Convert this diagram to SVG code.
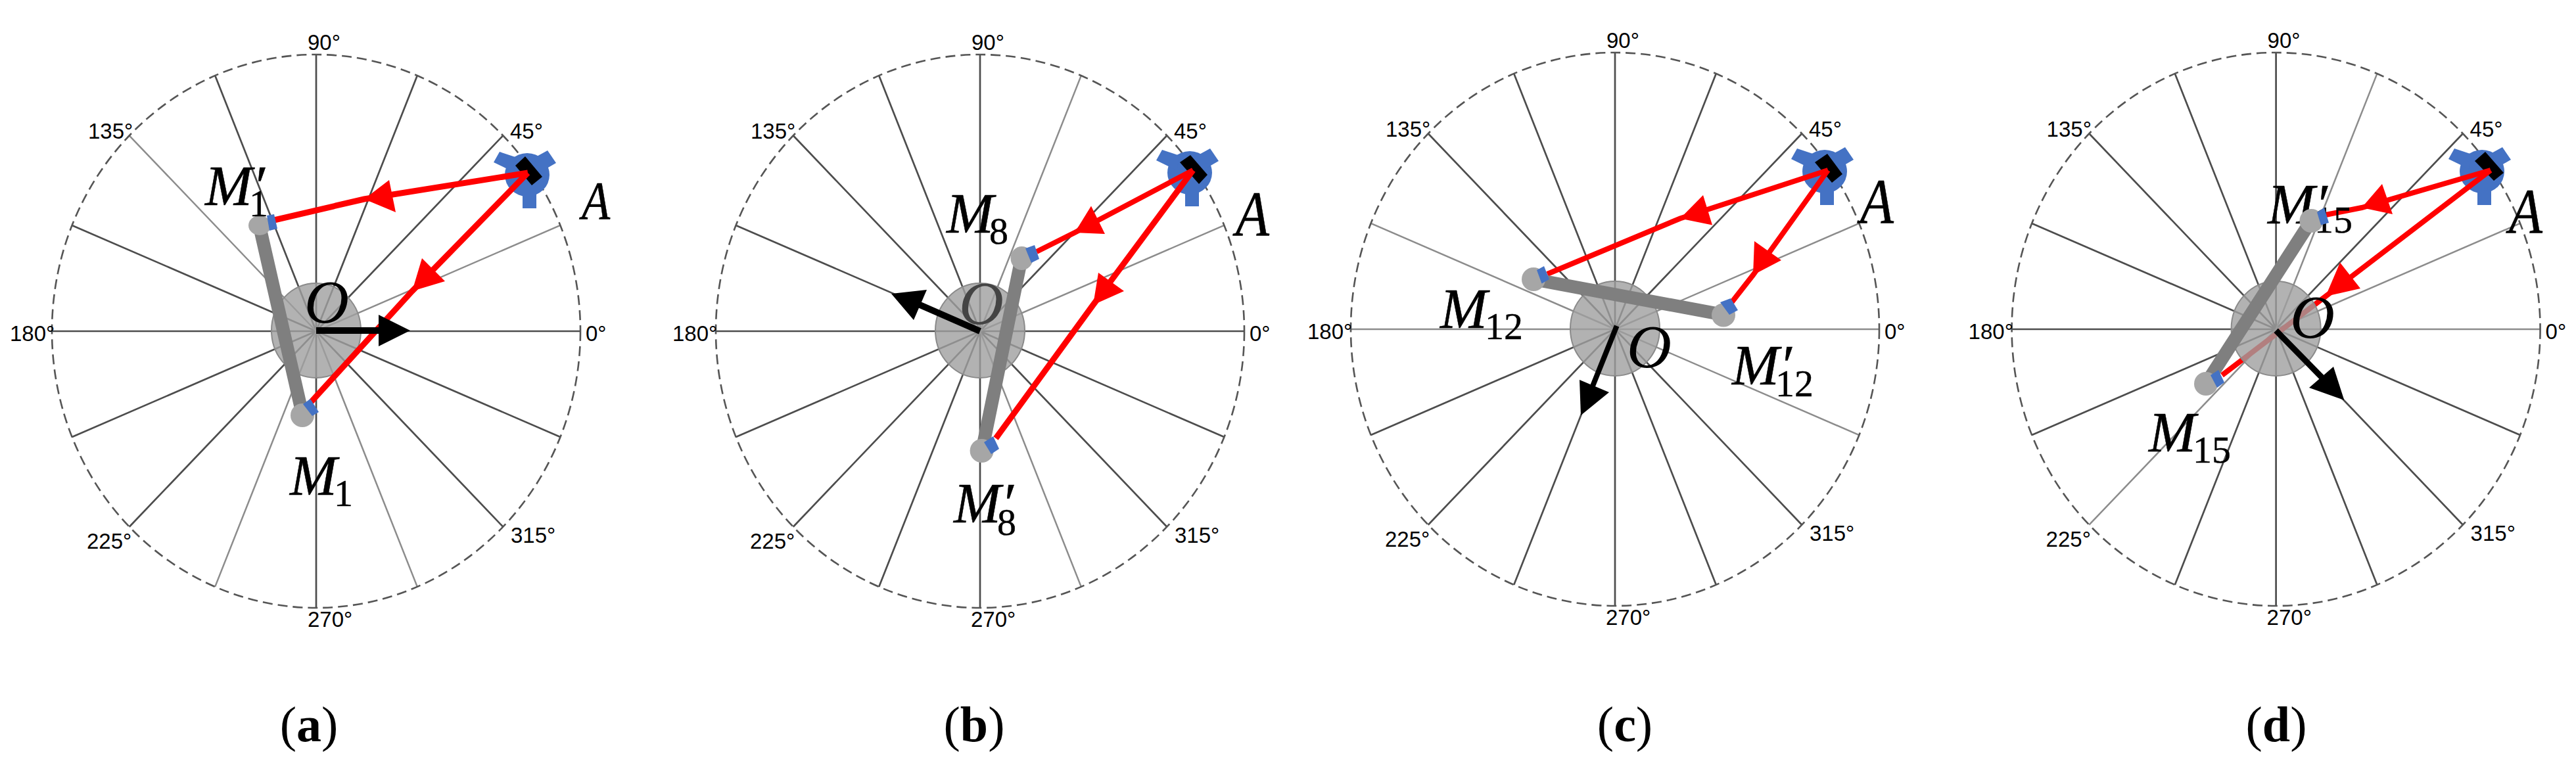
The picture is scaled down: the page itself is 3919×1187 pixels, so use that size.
<svg xmlns="http://www.w3.org/2000/svg" width="3919" height="1187" viewBox="0 0 3919 1187">
<style>
.dk{fill:none;stroke:#4d4d4d;stroke-width:2.7}
.lt{fill:none;stroke:#8c8c8c;stroke-width:2.5}
.rim{fill:none;stroke:#555;stroke-width:2.6;stroke-dasharray:15 8}
.core{fill:#9f9f9f;fill-opacity:.8;stroke:#8a8a8a;stroke-width:2}
.deg{font:33px "Liberation Sans",Arial,sans-serif;fill:#000}
.v{font:italic 86px "Liberation Serif",serif;fill:#000;stroke:#000;stroke-width:.6}
.s{font:normal 58px "Liberation Serif",serif;stroke-width:.4}
.cap{font:76px "Liberation Serif",serif;fill:#000;text-anchor:middle}
.b{font-weight:bold}
.rod{stroke:#7f7f7f;stroke-width:20;fill:none}
.knob{fill:#a6a6a6}
.tab{fill:#4472c4}
.ray{stroke:#f00;stroke-width:9;fill:none}
.rh{fill:#f00}
.ax{stroke:#000;stroke-width:10;fill:none}
.hub{fill:#4472c4}
</style>
<defs>
<g id="hub">
<ellipse cx="1" cy="1" rx="34" ry="33"/>
<polygon points="-41,-34 -50,-18 -19,-3 -14,-25"/>
<polygon points="32,-36 45,-17 19,-2 12,-25"/>
<polygon points="-6,28 -6,52 15,52 15,28"/>
</g>
</defs>
<rect width="3919" height="1187" fill="#fff"/>

<g id="panel-a">
<g id="grid-a" transform="translate(481 504)">
<path class="dk" d="M0 0L402 0M0 0L284.3 -297.7M0 0L153.8 -388.9M0 0L0 -421M0 0L-153.8 -388.9M0 0L-371.4 -161.1M0 0L-402 0M0 0L-371.4 161.1M0 0L-284.3 297.7M0 0L0 421M0 0L284.3 297.7M0 0L371.4 161.1"/>
<path class="lt" d="M0 0L-284.3 -297.7M0 0L371.4 -161.1M0 0L-153.8 388.9M0 0L153.8 388.9"/>
<ellipse class="rim" rx="402" ry="421"/>
<ellipse class="core" cy="-1" rx="68" ry="72"/>
<text class="deg" x="-13" y="-428">90°</text><text class="deg" x="-347" y="-293">135°</text><text class="deg" x="295" y="-293">45°</text><text class="deg" x="-466" y="15">180°</text><text class="deg" x="410" y="15">0°</text><text class="deg" x="-349" y="331">225°</text><text class="deg" x="296" y="322">315°</text><text class="deg" x="-13" y="450">270°</text>
</g>
<g id="node-a-A"><use href="#hub" class="hub" x="801" y="265"/><polygon points="799,238 825,269 809,282 784,252"/></g>
<g id="connectors-a">
<path class="ray" d="M803 263L554 303L417 335"/><polygon class="rh" points="554,303 592,274 602,323"/>
<path class="ray" d="M803 263L627 443L473 612"/><polygon class="rh" points="627,443 642,393 677,428"/>
<path class="ax" d="M481 503H580"/><polygon points="624,503 576,479 576,527"/>
</g>
<g id="node-a-rod"><path class="rod" d="M395 345L460 630"/><ellipse class="knob" cx="395" cy="343" rx="17" ry="15"/><ellipse class="knob" cx="460" cy="632" rx="18" ry="18"/>
<polygon class="tab" points="406,328 417,326 422,348 410,351"/><polygon class="tab" points="461,615 472,607 485,627 475,633"/></g>
<g id="labels-a">
<text class="v" x="312" y="312">M′<tspan class="s" x="379" y="329">1</tspan></text>
<text class="v" x="441" y="753">M<tspan class="s" x="508" y="770">1</tspan></text>
<text class="v" transform="translate(885 333) scale(.85 1)" style="font-size:83px">A</text>
<text class="v" transform="translate(463 491)" style="font-size:94px;stroke-width:0">O</text>
<text class="cap" x="470" y="1128">(<tspan class="b">a</tspan>)</text>
</g>
</g>

<g id="panel-b">
<g id="grid-b" transform="translate(1491 504)">
<path class="dk" d="M0 0L402 0M0 0L284.3 -297.7M0 0L0 -421M0 0L-153.8 -388.9M0 0L-284.3 -297.7M0 0L-371.4 -161.1M0 0L-402 0M0 0L-371.4 161.1M0 0L-284.3 297.7M0 0L-153.8 388.9M0 0L0 421M0 0L284.3 297.7M0 0L371.4 161.1"/>
<path class="lt" d="M0 0L371.4 -161.1M0 0L153.8 -388.9M0 0L153.8 388.9"/>
<ellipse class="rim" rx="402" ry="421"/>
<ellipse class="core" cy="-1" rx="68" ry="72"/>
<text class="deg" x="-13" y="-428">90°</text><text class="deg" x="-349" y="-293">135°</text><text class="deg" x="295" y="-293">45°</text><text class="deg" x="-468" y="15">180°</text><text class="deg" x="410" y="15">0°</text><text class="deg" x="-350" y="331">225°</text><text class="deg" x="296" y="322">315°</text><text class="deg" x="-14" y="450">270°</text>
</g>
<g id="node-b-A"><use href="#hub" class="hub" x="1809" y="262"/><polygon points="1811,236 1837,266 1824,280 1795,247"/></g>
<g id="connectors-b">
<path class="ray" d="M1815 259L1635 354L1577 383" style="stroke-width:8"/><polygon class="rh" points="1635,354 1660,313.5 1681,356"/>
<path class="ray" d="M1815 259L1663 464L1515 667"/><polygon class="rh" points="1663,464 1671,415 1710,443"/>
<path class="ax" d="M1491 504L1395 462"/><polygon points="1356,447 1410,441 1390,487"/>
</g>
<g id="node-b-rod"><path class="rod" d="M1554 393L1494 686"/><ellipse class="knob" cx="1554.500" cy="393" rx="17" ry="18"/><ellipse class="knob" cx="1493.600" cy="686" rx="18" ry="18"/>
<polygon class="tab" points="1560,378 1574,373 1581,394 1569,400"/><polygon class="tab" points="1497,673 1511,664 1520,683 1508,691"/></g>
<g id="labels-b">
<text class="v" x="1440" y="354">M<tspan class="s" x="1505" y="371">8</tspan></text>
<text class="v" x="1451" y="795">M′<tspan class="s" x="1517" y="814">8</tspan></text>
<text class="v" transform="translate(1880 358) scale(.85 1)" style="font-size:98px">A</text>
<text class="v" transform="translate(1459 493)" style="font-size:94px;fill:#444;stroke-width:0">O</text>
<text class="cap" x="1482" y="1128">(<tspan class="b">b</tspan>)</text>
</g>
</g>

<g id="panel-c">
<g id="grid-c" transform="translate(2457 501)">
<path class="dk" d="M0 0L284.3 -297.7M0 0L153.8 -388.9M0 0L0 -421M0 0L-153.8 -388.9M0 0L-284.3 -297.7M0 0L-371.4 161.1M0 0L-284.3 297.7M0 0L-153.8 388.9M0 0L0 421M0 0L153.8 388.9M0 0L284.3 297.7"/>
<path class="lt" d="M0 0L402 0M0 0L-402 0M0 0L371.4 -161.1M0 0L-371.4 -161.1M0 0L371.4 161.1"/>
<ellipse class="rim" rx="402" ry="421"/>
<ellipse class="core" cy="-1" rx="68" ry="72"/>
<text class="deg" x="-13" y="-428">90°</text><text class="deg" x="-349" y="-293">135°</text><text class="deg" x="295" y="-293">45°</text><text class="deg" x="-468" y="15">180°</text><text class="deg" x="410" y="15">0°</text><text class="deg" x="-350" y="331">225°</text><text class="deg" x="296" y="322">315°</text><text class="deg" x="-14" y="450">270°</text>
</g>
<g id="node-c-A"><use href="#hub" class="hub" x="2775" y="260"/><polygon points="2780,234 2803,265 2787,278 2761,247"/></g>
<g id="connectors-c">
<path class="ray" d="M2781 259L2556 332.500L2354 417" style="stroke-width:8"/><polygon class="rh" points="2556,332.500 2591,297 2605,342.500"/>
<path class="ray" d="M2781 259L2667 418.500L2633 462" style="stroke-width:8"/><polygon class="rh" points="2667,418.500 2669,367 2710,396"/>
</g>
<g id="node-c-rod"><path class="rod" d="M2333 425L2622 479"/><ellipse class="knob" cx="2333" cy="425" rx="18" ry="18"/><ellipse class="knob" cx="2622" cy="479.500" rx="18" ry="18"/>
<polygon class="tab" points="2338,411 2349,405 2357,425 2345.500,431.500"/><polygon class="tab" points="2617,460 2633,454 2644,472 2631,479"/></g>
<g id="labels-c">
<path class="ax" style="stroke-width:8" d="M2459.600 496L2422 590"/><polygon points="2405,632 2403,578 2448,597"/>
<text class="v" x="2191" y="498.500">M<tspan class="s" x="2259" y="516">12</tspan></text>
<text class="v" x="2635" y="584.500">M′<tspan class="s" x="2701" y="603">12</tspan></text>
<text class="v" transform="translate(2830 339) scale(.85 1)" style="font-size:98px">A</text>
<text class="v" transform="translate(2475 559)" style="font-size:94px;stroke-width:0">O</text>
<text class="cap" x="2472" y="1128">(<tspan class="b">c</tspan>)</text>
</g>
</g>

<g id="panel-d">
<g id="grid-d" transform="translate(3462.600 501)">
<path class="dk" d="M0 0L284.3 -297.7M0 0L0 -421M0 0L-153.8 -388.9M0 0L-284.3 -297.7M0 0L-371.4 -161.1M0 0L-402 0M0 0L-371.4 161.1M0 0L-153.8 388.9M0 0L0 421M0 0L153.8 388.9M0 0L284.3 297.7M0 0L371.4 161.1"/>
<path class="lt" d="M0 0L402 0M0 0L371.4 -161.1M0 0L153.8 -388.9M0 0L-284.3 297.7"/>
<ellipse class="rim" rx="402" ry="421"/>
<text class="deg" x="-13" y="-428">90°</text><text class="deg" x="-349" y="-293">135°</text><text class="deg" x="295" y="-293">45°</text><text class="deg" x="-468" y="15">180°</text><text class="deg" x="410" y="15">0°</text><text class="deg" x="-350" y="331">225°</text><text class="deg" x="296" y="322">315°</text><text class="deg" x="-14" y="450">270°</text>
</g>
<g id="node-d-A"><use href="#hub" class="hub" x="3775" y="260"/><polygon points="3781,231 3809,263 3794,275 3765,245"/></g>
<g id="connectors-d">
<path class="ray" d="M3789 259L3593 316L3538 327" style="stroke-width:8"/><polygon class="rh" points="3593,316 3624,280 3640,326"/>
<path class="ray" d="M3789 259L3538 451L3380.500 571" style="stroke-width:8"/><polygon class="rh" points="3538,451 3560,399.500 3591,439"/>
</g>
<ellipse class="core" cx="3462.600" cy="500" rx="68" ry="72"/>
<g id="labels-d">
<text class="v" x="3450" y="340">M′<tspan class="s" x="3521" y="354">15</tspan></text>
<text class="v" x="3269" y="686.500">M<tspan class="s" x="3336" y="704">15</tspan></text>
<text class="v" transform="translate(3817 354) scale(.85 1)" style="font-size:98px">A</text>
<text class="v" transform="translate(3484 514)" style="font-size:94px;stroke-width:0">O</text>
<text class="cap" x="3463" y="1128">(<tspan class="b">d</tspan>)</text>
</g>
<g id="node-d-rod"><path class="rod" d="M3516 336L3356 584"/><ellipse class="knob" cx="3516.400" cy="336" rx="18" ry="18"/><ellipse class="knob" cx="3356" cy="584" rx="18" ry="18"/>
<polygon class="tab" points="3525,323 3536,316 3543,339 3531,342.500"/><polygon class="tab" points="3363,571 3375,563 3384,582 3373,590"/></g>
<path class="ax" style="stroke-width:9" d="M3462.600 503L3535 577"/><polygon points="3566.400,609 3550,558 3513,590"/>
</g>
</svg>
